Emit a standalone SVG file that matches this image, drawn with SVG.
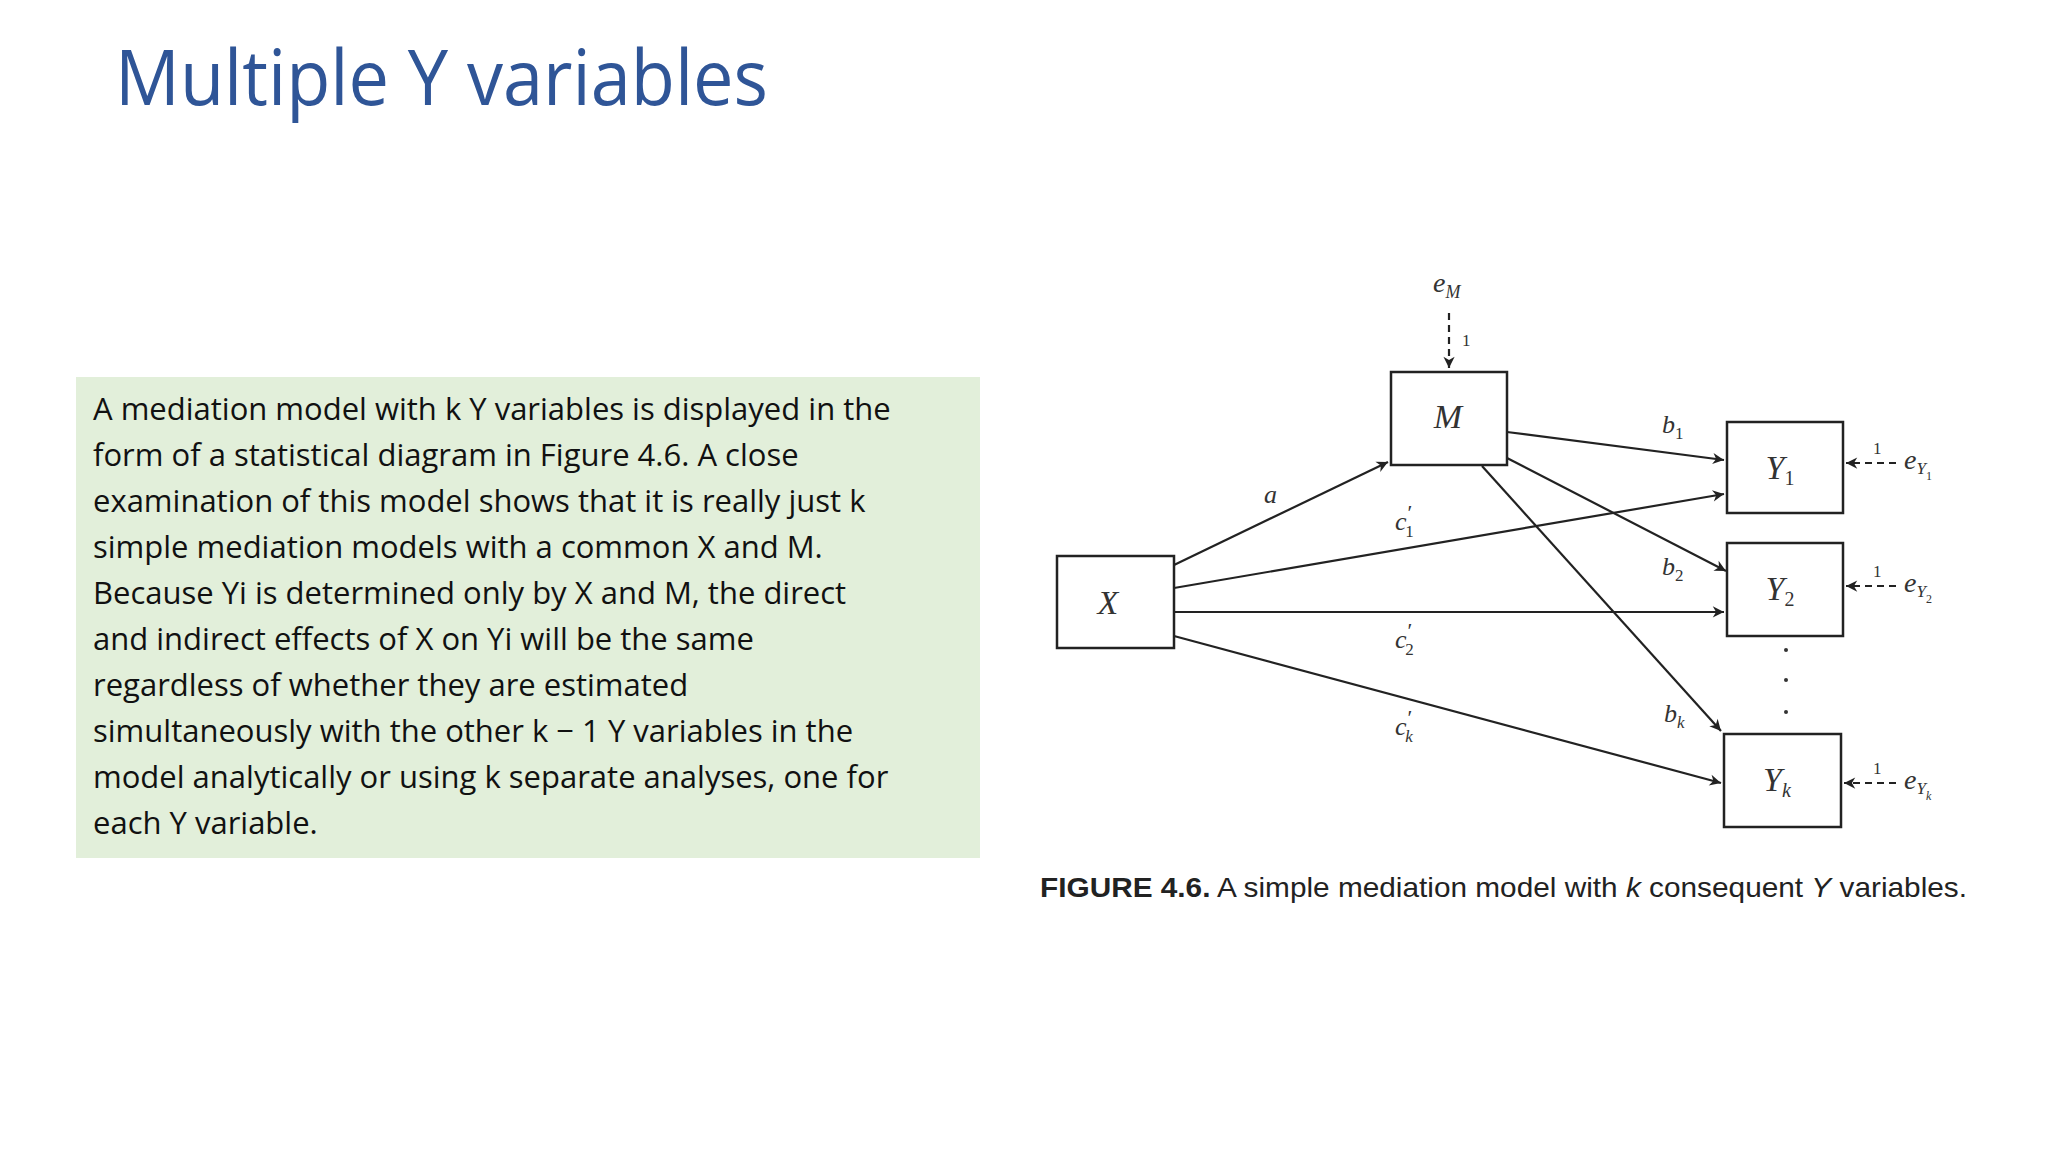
<svg xmlns="http://www.w3.org/2000/svg" width="2048" height="1152" viewBox="0 0 2048 1152">
<style>
.body{font-family:"Open Sans","Noto Sans",sans-serif;font-size:31px;fill:#111}
.box{fill:#fff;stroke:#222;stroke-width:2.5}
.lbl{font-family:"Liberation Serif",serif;font-style:italic;fill:#333}
.node{font-family:"Liberation Serif",serif;font-style:italic;font-size:34px;fill:#333}
.e{stroke:#222;stroke-width:2.2;fill:none}
.d{stroke:#222;stroke-width:2.2;fill:none;stroke-dasharray:7 5}
.one{font-family:"Liberation Serif",serif;font-size:17px;fill:#333}
</style>
<defs>
<marker id="ah" viewBox="0 0 10 10" refX="10" refY="5" markerWidth="7" markerHeight="7" orient="auto" markerUnits="userSpaceOnUse" style="overflow:visible">
<path d="M0,0 L10,5 L0,10 L3,5 z" fill="#222" transform="scale(1.6) translate(-3.8,-1.9)"/>
</marker>
</defs>
<rect width="2048" height="1152" fill="#fff"/>
<text x="115" y="105" font-family="Open Sans,Noto Sans,sans-serif" font-size="76" fill="#2F5597" textLength="653" lengthAdjust="spacingAndGlyphs">Multiple Y variables</text>
<g id="textbox">
<rect x="76" y="377" width="904" height="481" fill="#E2EFDA"/>
<text class="body" x="93" y="420">A mediation model with k Y variables is displayed in the</text>
<text class="body" x="93" y="466">form of a statistical diagram in Figure 4.6. A close</text>
<text class="body" x="93" y="512">examination of this model shows that it is really just k</text>
<text class="body" x="93" y="558">simple mediation models with a common X and M.</text>
<text class="body" x="93" y="604">Because Yi is determined only by X and M, the direct</text>
<text class="body" x="93" y="650">and indirect effects of X on Yi will be the same</text>
<text class="body" x="93" y="696">regardless of whether they are estimated</text>
<text class="body" x="93" y="742">simultaneously with the other k − 1 Y variables in the</text>
<text class="body" x="93" y="788">model analytically or using k separate analyses, one for</text>
<text class="body" x="93" y="834">each Y variable.</text>
</g>
<g id="connectors">
<line class="e" x1="1174" y1="565" x2="1388" y2="462" marker-end="url(#ah)"/>
<line class="e" x1="1174" y1="588" x2="1724" y2="494" marker-end="url(#ah)"/>
<line class="e" x1="1174" y1="612" x2="1724" y2="612" marker-end="url(#ah)"/>
<line class="e" x1="1174" y1="636" x2="1721" y2="783" marker-end="url(#ah)"/>
<line class="e" x1="1507" y1="432" x2="1724" y2="460" marker-end="url(#ah)"/>
<line class="e" x1="1507" y1="458" x2="1726" y2="571" marker-end="url(#ah)"/>
<line class="e" x1="1482" y1="466" x2="1721" y2="731" marker-end="url(#ah)"/>
<line class="d" x1="1449" y1="313" x2="1449" y2="368" marker-end="url(#ah)"/>
<line class="d" x1="1896" y1="463" x2="1846" y2="463" marker-end="url(#ah)"/>
<line class="d" x1="1896" y1="586" x2="1846" y2="586" marker-end="url(#ah)"/>
<line class="d" x1="1896" y1="783" x2="1844" y2="783" marker-end="url(#ah)"/>
<text class="lbl" x="1264" y="503" font-size="26">a</text>
<text class="lbl" x="1395" y="530" font-size="26">c<tspan font-style="normal" font-size="22" dx="1" dy="-10">′</tspan><tspan font-style="normal" font-size="17" dx="-7" dy="17">1</tspan></text>
<text class="lbl" x="1395" y="648" font-size="26">c<tspan font-style="normal" font-size="22" dx="1" dy="-10">′</tspan><tspan font-style="normal" font-size="17" dx="-7" dy="17">2</tspan></text>
<text class="lbl" x="1395" y="735" font-size="26">c<tspan font-style="normal" font-size="22" dx="1" dy="-10">′</tspan><tspan font-size="17" dx="-7" dy="17">k</tspan></text>
<text class="lbl" x="1662" y="433" font-size="26">b<tspan font-style="normal" font-size="17" dy="6">1</tspan></text>
<text class="lbl" x="1662" y="575" font-size="26">b<tspan font-style="normal" font-size="17" dy="6">2</tspan></text>
<text class="lbl" x="1664" y="722" font-size="26">b<tspan font-size="17" dy="6">k</tspan></text>
<text class="one" x="1462" y="346">1</text>
<text class="one" x="1873" y="454">1</text>
<text class="one" x="1873" y="577">1</text>
<text class="one" x="1873" y="774">1</text>
</g>
<g id="eM"><text class="lbl" x="1433" y="292" font-size="28">e<tspan font-size="18" dy="6">M</tspan></text></g>
<g id="eY1"><text class="lbl" x="1904" y="469" font-size="28">e<tspan font-size="17" dy="5">Y</tspan><tspan font-style="normal" font-size="12" dy="6">1</tspan></text></g>
<g id="eY2"><text class="lbl" x="1904" y="592" font-size="28">e<tspan font-size="17" dy="5">Y</tspan><tspan font-style="normal" font-size="12" dy="6">2</tspan></text></g>
<g id="eYk"><text class="lbl" x="1904" y="789" font-size="28">e<tspan font-size="17" dy="5">Y</tspan><tspan font-size="12" dy="6">k</tspan></text></g>
<g id="X"><rect class="box" x="1057" y="556" width="117" height="92"/><text class="node" x="1108" y="614" text-anchor="middle">X</text></g>
<g id="M"><rect class="box" x="1391" y="372" width="116" height="93"/><text class="node" x="1448" y="428" text-anchor="middle">M</text></g>
<g id="Y1"><rect class="box" x="1727" y="422" width="116" height="91"/><text class="node" x="1780" y="479" text-anchor="middle">Y<tspan font-style="normal" font-size="20" dy="6">1</tspan></text></g>
<g id="Y2"><rect class="box" x="1727" y="543" width="116" height="93"/><text class="node" x="1780" y="600" text-anchor="middle">Y<tspan font-style="normal" font-size="20" dy="6">2</tspan></text></g>
<g id="Yk"><rect class="box" x="1724" y="734" width="117" height="93"/><text class="node" x="1777" y="791" text-anchor="middle">Y<tspan font-size="20" dy="6">k</tspan></text></g>
<g id="dots" fill="#333"><circle cx="1786" cy="650" r="2"/><circle cx="1786" cy="680" r="2"/><circle cx="1786" cy="712" r="2"/></g>
<text x="1040" y="897" font-family="Liberation Sans,Arial,sans-serif" font-size="28" fill="#222" textLength="927" lengthAdjust="spacingAndGlyphs"><tspan font-weight="bold">FIGURE 4.6.</tspan> A simple mediation model with <tspan font-style="italic">k</tspan> consequent <tspan font-style="italic">Y</tspan> variables.</text>
</svg>
